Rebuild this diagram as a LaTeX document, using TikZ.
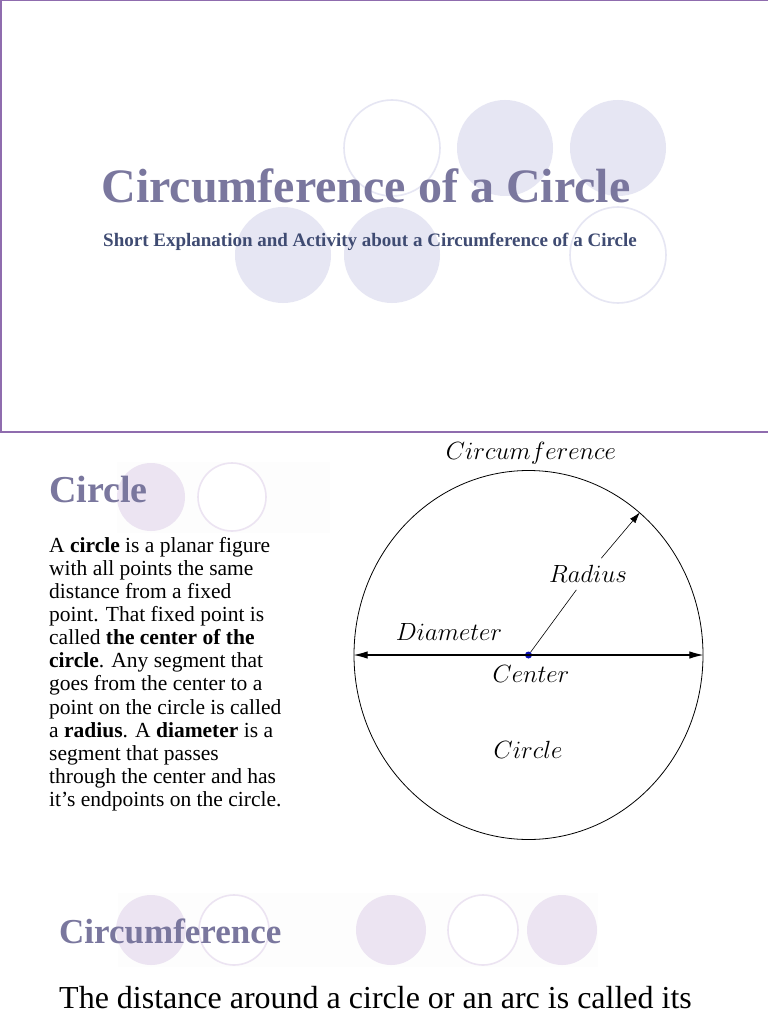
\documentclass[tikz,border=0pt]{standalone}
\usepackage{fontspec}
\setmainfont{Liberation Serif}
\usepackage{tikz}
\usetikzlibrary{arrows.meta,positioning,shapes.geometric}

\definecolor{frameline}{HTML}{8F6CAE}
\definecolor{titlegray}{HTML}{7A779E}
\definecolor{subblue}{HTML}{3F4B72}
\definecolor{dotlav}{HTML}{E6E6F3}
\definecolor{dotpink}{HTML}{ECE4F2}
\definecolor{centerblue}{HTML}{0A10B8}

\begin{document}
\begin{tikzpicture}[
  x=1pt,y=-1pt,
  disc/.style={fill=#1, draw=none},
  ring/.style={draw=#1, line width=1.6pt, fill=white},
  heading/.style={font=\bfseries\fontsize{#1}{#1}\selectfont, text=titlegray, inner sep=0pt},
  body/.style={align=left, inner sep=0pt, font=\fontsize{21.5}{23.1}\selectfont},
  lbl/.style={font=\fontsize{23.5}{23.5}\selectfont, inner sep=0pt},
  arr/.style={{Latex[length=14pt,width=7.5pt]}-{Latex[length=14pt,width=7.5pt]}, line width=1.1pt},
  rarr/.style={-{Latex[length=11pt,width=7pt]}, line width=0.6pt}
]
\useasboundingbox[fill=white] (0,0) rectangle (768,1024);

% title slide
\draw[frameline, line width=1.2pt] (768,0.6) -- (1,0.6) -- (1,432) -- (768,432);
\draw[ring=dotlav] (392,148) circle (48);
\fill[disc=dotlav] (505,148) circle (48);
\fill[disc=dotlav] (618,148) circle (48);
\fill[disc=dotlav] (283,255) circle (48);
\fill[disc=dotlav] (392,255) circle (48);
\draw[ring=dotlav] (618,255) circle (48);
\node[heading=48, anchor=base] (title) at (366,203) {Circumference of a Circle};
\node[font=\bfseries\fontsize{19}{19}\selectfont, text=subblue, inner sep=0pt, anchor=base] (subtitle) at (370,246)
  {Short Explanation and Activity about a Circumference of a Circle};

% circle slide
\fill[black!0.8] (117,462) rectangle (330,533);
\fill[disc=dotpink] (151,497) circle (34);
\draw[ring=dotpink] (232,497) circle (34);
\node[heading=38, anchor=base west] (circhead) at (49,502) {Circle};
\node[body, anchor=north west] (expl) at (49,537)
  {A \textbf{circle} is a planar figure\\
   with all points the same\\
   distance from a fixed\\
   point. That fixed point is\\
   called \textbf{the center of the}\\
   \textbf{circle}. Any segment that\\
   goes from the center to a\\
   point on the circle is called\\
   a \textbf{radius}. A \textbf{diameter} is a\\
   segment that passes\\
   through the center and has\\
   it’s endpoints on the circle.};

\node[ellipse, draw, line width=0.8pt, minimum width=349, minimum height=369, inner sep=0pt] (circ) at (528.5,655) {};
\node[circle, fill=centerblue, inner sep=0pt, minimum size=7] (ctr) at (circ.center) {};
\node[lbl] (circumlab) at (531,453) {$Circumference$};
\node[lbl, inner sep=7pt] (radlab) at (588,574) {$Radius$};
\node[lbl] (diamlab) at (449,632) {$Diameter$};
\node[lbl] (ctrlab) at (531,674) {$Center$};
\node[lbl] (circlab) at (528,750) {$Circle$};
\draw[arr] (circ.west) -- (circ.east);
\draw[line width=0.6pt] (ctr) -- (radlab);
\draw[rarr] (radlab) -- (circ.52);

% circumference slide
\fill[black!0.8] (118,893) rectangle (598,967);
\fill[disc=dotpink] (151,930) circle (35);
\draw[ring=dotpink] (234,930) circle (35);
\fill[disc=dotpink] (391,930) circle (35);
\draw[ring=dotpink] (483,930) circle (35);
\fill[disc=dotpink] (562,930) circle (35);
\node[heading=35, anchor=base west] (cfhead) at (59,943) {Circumference};
\node[font=\fontsize{32}{32}\selectfont, inner sep=0pt, anchor=base west] (cfdef) at (59,1008)
  {The distance around a circle or an arc is called its};
\end{tikzpicture}
\end{document}
